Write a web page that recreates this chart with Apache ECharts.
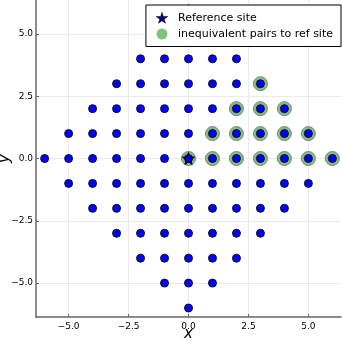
<!DOCTYPE html>
<html>
<head>
<meta charset="utf-8">
<script src="https://cdn.jsdelivr.net/npm/echarts@6/dist/echarts.min.js"></script>
<style>
  html, body { margin: 0; padding: 0; background: #fff; }
  #chart { width: 342px; height: 341px; }
</style>
</head>
<body>
<div id="chart"></div>
<script>
// lattice sites, one row per y value: [y, x values]
const siteRows = [
  [6, [0]],
  [5, [-1, 0, 1]],
  [4, [-2, -1, 0, 1, 2]],
  [3, [-3, -2, -1, 0, 1, 2, 3]],
  [2, [-4, -3, -2, -1, 0, 1, 2, 3, 4]],
  [1, [-5, -4, -3, -2, -1, 0, 1, 2, 3, 4, 5]],
  [0, [-6, -5, -4, -3, -2, -1, 0, 1, 2, 3, 4, 5, 6]],
  [-1, [-5, -4, -3, -2, -1, 0, 1, 2, 3, 4, 5]],
  [-2, [-4, -3, -2, -1, 0, 1, 2, 3, 4]],
  [-3, [-3, -2, -1, 0, 1, 2, 3]],
  [-4, [-2, -1, 0, 1, 2]],
  [-5, [-1, 0, 1]],
  [-6, [0]]
]
// inequivalent pairs to the reference site
const pairRows = [
  [0, [0, 1, 2, 3, 4, 5, 6]],
  [1, [1, 2, 3, 4, 5]],
  [2, [2, 3, 4]],
  [3, [3]]
]
const refSite = [[0, 0]]
const tickValues = [-5, -2.5, 0, 2.5, 5]

function flatten (rows) {
  let pts = []
  rows.forEach(function (r) {
    r[1].forEach(function (x) { pts.push([x, r[0]]) })
  })
  return pts
}

const starPath = 'path://M50,0 L61,35 L98,35 L68,57 L79,91 L50,70 L21,91 L32,57 L2,35 L39,35 Z'
const fmt = function (v) { return v.toFixed(1).replace('-', '\u2212') }

function axis (name, gap, rotate, labelMargin) {
  return {
    type: 'value',
    min: -6.36,
    max: 6.36,
    name: name,
    nameLocation: 'middle',
    nameGap: gap,
    nameRotate: rotate,
    nameMoveOverlap: false,
    nameTextStyle: { fontFamily: 'DejaVu Sans', fontStyle: 'italic', fontSize: 15, color: '#000' },
    axisLine: { show: true, onZero: false, lineStyle: { color: '#666', width: 1.5 } },
    axisTick: { show: true, inside: true, length: 3, customValues: tickValues, lineStyle: { color: '#666' } },
    axisLabel: { customValues: tickValues, formatter: fmt, fontFamily: 'DejaVu Sans', fontSize: 9, color: '#000', margin: labelMargin },
    splitLine: { show: true, lineStyle: { color: '#ebebeb', width: 1 } }
  }
}

const chart = echarts.init(document.getElementById('chart'))
chart.setOption({
  animation: false,
  grid: { left: 36, right: 1, top: 0, bottom: 24, containLabel: false, outerBoundsMode: 'none' },
  xAxis: axis('x', 10, 0, 5),
  yAxis: axis('y', 23, 90, 3),
  legend: {
    orient: 'vertical',
    right: 1,
    top: 5,
    padding: [7, 8, 7, 10],
    itemGap: 5,
    itemWidth: 12,
    itemHeight: 11,
    backgroundColor: '#fff',
    borderColor: '#000',
    borderWidth: 1,
    borderRadius: 0,
    textStyle: { fontFamily: 'DejaVu Sans', fontSize: 11, color: '#000', padding: [0, 0, 0, 5] },
    data: [
      { name: 'Reference site', icon: starPath, itemStyle: { color: '#00008b', borderColor: '#000', borderWidth: 0.5 } },
      { name: 'inequivalent pairs to ref site', icon: 'circle', itemStyle: { color: '#80c080', borderWidth: 0 } }
    ]
  },
  series: [
    {
      name: 'inequivalent pairs to ref site',
      type: 'scatter',
      data: flatten(pairRows),
      symbol: 'circle',
      symbolSize: 14,
      itemStyle: { color: '#80c080', borderColor: '#808080', borderWidth: 1, opacity: 1 }
    },
    {
      name: 'sites',
      type: 'scatter',
      data: flatten(siteRows),
      symbol: 'circle',
      symbolSize: 8,
      itemStyle: { color: '#0000ff', borderColor: '#111', borderWidth: 1, opacity: 1 }
    },
    {
      name: 'Reference site',
      type: 'scatter',
      data: refSite,
      symbol: starPath,
      symbolSize: 12,
      itemStyle: { color: '#0000ff', borderColor: '#000', borderWidth: 1, opacity: 1 }
    }
  ]
})
</script>
</body>
</html>
